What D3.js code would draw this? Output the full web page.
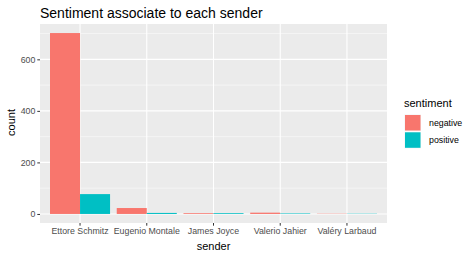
<!DOCTYPE html>
<html>
<head>
<meta charset="utf-8">
<script src="https://cdn.jsdelivr.net/npm/d3@7"></script>
<style>
  body { margin: 0; background: #fff; }
  text { font-family: "Liberation Sans", Arial, sans-serif; }
</style>
</head>
<body>
<div id="chart"></div>
<script>
// data
var senders = ["Ettore Schmitz", "Eugenio Montale", "James Joyce", "Valerio Jahier", "Valéry Larbaud"];
var sentiments = ["negative", "positive"];
var negativeCounts = [702, 23, 3, 5, 1];
var positiveCounts = [77, 4, 3, 2, 1];
var yTicks = [0, 200, 400, 600];
var yMinor = [100, 300, 500, 700];

var W = 474, H = 257;
var margin = {top: 24, right: 87, bottom: 34, left: 40};
var width = W - margin.left - margin.right,
    height = H - margin.top - margin.bottom;

var svg = d3.select("#chart")
  .append("svg")
  .attr("width", W)
  .attr("height", H);

var rows = senders.map(function(s, i) {
  return {sender: s, values: [
    {key: "negative", value: negativeCounts[i]},
    {key: "positive", value: positiveCounts[i]}
  ]};
});

var color = d3.scaleOrdinal()
  .domain(sentiments)
  .range(["#F8766D", "#00BFC4"]);

// ggplot style expansion: 0.6 units on discrete x, 5% on continuous y
var x = d3.scaleBand()
  .domain(senders)
  .range([0, width])
  .paddingOuter(0.1)
  .paddingInner(0);
var maxVal = d3.max(negativeCounts);
var y = d3.scaleLinear()
  .domain([-maxVal * 0.05, maxVal * 1.05])
  .range([height, 0]);

var xSub = d3.scaleBand()
  .domain(sentiments)
  .range([x.bandwidth() * 0.05, x.bandwidth() * 0.95]);

var g = svg.append("g")
  .attr("transform", "translate(" + margin.left + "," + margin.top + ")");

// panel
g.append("rect")
  .attr("width", width)
  .attr("height", height)
  .attr("fill", "#EBEBEB");

// minor grid
g.selectAll(".minor")
  .data(yMinor)
  .enter()
  .append("line")
    .attr("x1", 0).attr("x2", width)
    .attr("y1", function(d){ return y(d) })
    .attr("y2", function(d){ return y(d) })
    .attr("stroke", "#fff")
    .attr("stroke-width", 0.5);

// major grid
g.selectAll(".hmajor")
  .data(yTicks)
  .enter()
  .append("line")
    .attr("x1", 0).attr("x2", width)
    .attr("y1", function(d){ return y(d) })
    .attr("y2", function(d){ return y(d) })
    .attr("stroke", "#fff")
    .attr("stroke-width", 1.1);

g.selectAll(".vmajor")
  .data(senders)
  .enter()
  .append("line")
    .attr("y1", 0).attr("y2", height)
    .attr("x1", function(d){ return x(d) + x.bandwidth() / 2 })
    .attr("x2", function(d){ return x(d) + x.bandwidth() / 2 })
    .attr("stroke", "#fff")
    .attr("stroke-width", 1.1);

// bars
g.selectAll(".grp")
  .data(rows)
  .enter()
  .append("g")
    .attr("transform", function(d){ return "translate(" + x(d.sender) + ",0)" })
  .selectAll("rect")
  .data(function(d){ return d.values })
  .enter()
  .append("rect")
    .attr("x", function(d){ return xSub(d.key) })
    .attr("width", xSub.bandwidth())
    .attr("y", function(d){ return y(d.value) })
    .attr("height", function(d){ return y(0) - y(d.value) })
    .attr("fill", function(d){ return color(d.key) });

// axes
var xAxis = g.append("g")
  .attr("transform", "translate(0," + height + ")")
  .call(d3.axisBottom(x).tickSize(2.7).tickPadding(2));
var yAxis = g.append("g")
  .call(d3.axisLeft(y).tickValues(yTicks).tickSize(2.7).tickPadding(2));

[xAxis, yAxis].forEach(function(a) {
  a.select(".domain").remove();
  a.selectAll(".tick line").attr("stroke", "#333333");
  a.selectAll(".tick text")
    .attr("fill", "#4D4D4D")
    .style("font-size", "8.8px")
    .style("font-family", "'Liberation Sans', Arial, sans-serif");
});

// titles
svg.append("text")
  .attr("x", margin.left)
  .attr("y", 18)
  .style("font-size", "14px")
  .attr("fill", "#000")
  .text("Sentiment associate to each sender");

svg.append("text")
  .attr("x", margin.left + width / 2)
  .attr("y", 250)
  .attr("text-anchor", "middle")
  .style("font-size", "11px")
  .text("sender");

svg.append("text")
  .attr("transform", "translate(14.5," + (margin.top + height / 2 - 1) + ") rotate(-90)")
  .attr("text-anchor", "middle")
  .style("font-size", "11px")
  .text("count");

// legend
var legend = svg.append("g")
  .attr("transform", "translate(404,0)");

legend.append("text")
  .attr("x", 0)
  .attr("y", 107)
  .style("font-size", "11px")
  .text("sentiment");

var items = legend.selectAll(".item")
  .data(sentiments)
  .enter()
  .append("g")
    .attr("transform", function(d, i){ return "translate(0," + (114.5 + i * 17.3) + ")" });

items.append("rect")
  .attr("x", 0.5)
  .attr("width", 16.5)
  .attr("height", 16.5)
  .attr("fill", "#F2F2F2");
items.append("rect")
  .attr("x", 1)
  .attr("y", 0.5)
  .attr("width", 15.5)
  .attr("height", 15.5)
  .attr("fill", function(d){ return color(d) });
items.append("text")
  .attr("x", 25)
  .attr("y", 11.5)
  .style("font-size", "8.8px")
  .attr("fill", "#000")
  .text(function(d){ return d });
</script>
</body>
</html>
